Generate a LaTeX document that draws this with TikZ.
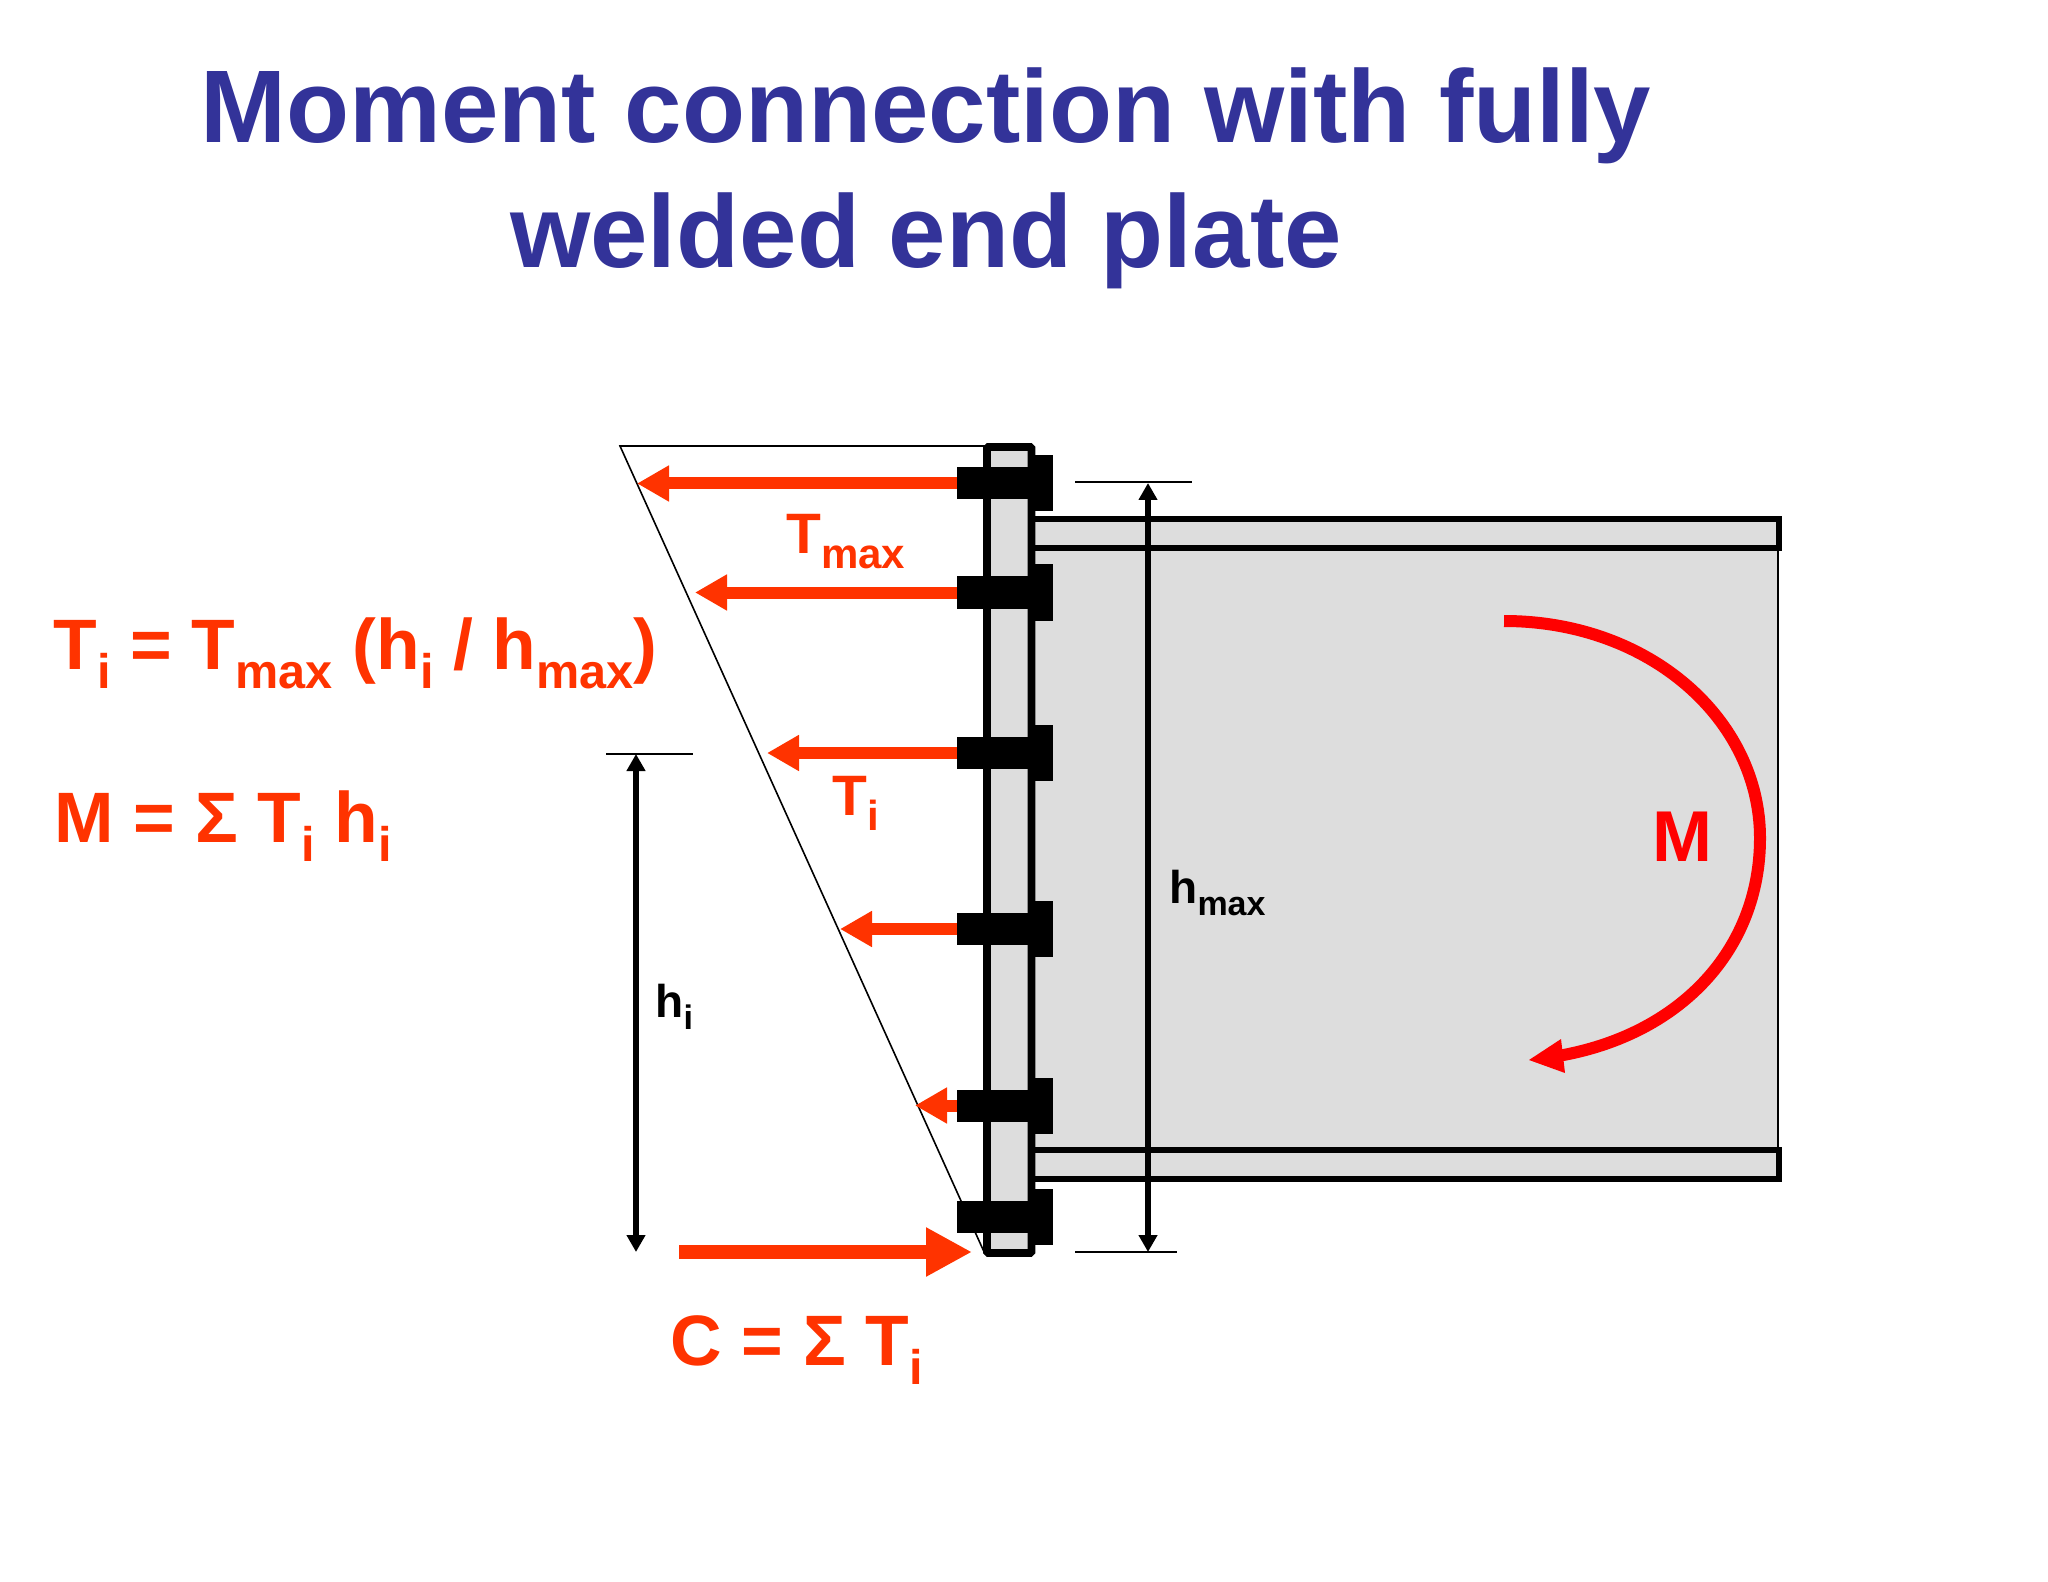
\documentclass[tikz,border=0pt]{standalone}
\usepackage{fontspec}
\setmainfont{Liberation Sans}
\usetikzlibrary{arrows.meta}
\definecolor{titleblue}{HTML}{333399}
\definecolor{forcecol}{HTML}{FF3300}
\definecolor{steelcol}{HTML}{DDDDDD}
\definecolor{momentcol}{HTML}{FF0000}
\newcommand{\lowtxt}[2]{\raisebox{-0.27em}{\fontsize{#1}{#1}\selectfont #2}}
\tikzset{
  x=0.5pt,y=-0.5pt,
  titletext/.style={font=\bfseries\fontsize{51.6pt}{51.6pt}\selectfont,text=titleblue,inner sep=0,anchor=base},
  biglabel/.style={font=\bfseries\fontsize{35.7pt}{35.7pt}\selectfont,text=forcecol,inner sep=0,anchor=base west},
  midlabel/.style={font=\bfseries\fontsize{28.5pt}{28.5pt}\selectfont,text=forcecol,inner sep=0,anchor=base west},
  blacklabel/.style={font=\bfseries\fontsize{23pt}{23pt}\selectfont,text=black,inner sep=0,anchor=base west},
  flangebox/.style={draw=black,line width=2.8pt,fill=steelcol},
  platebox/.style={draw=black,line width=3.8pt,fill=steelcol,rounded corners=0.6pt},
  boltpart/.style={fill=black,draw=none},
  thinline/.style={draw=black,line width=0.8pt},
  tickline/.style={draw=black,line width=1.2pt},
  pullarrow/.style={draw=forcecol,line width=6pt,-{Triangle[length=16pt,width=17pt]}},
  pusharrow/.style={draw=forcecol,line width=7pt,-{Triangle[length=23pt,width=23pt]}},
  dimarrow/.style={draw=black,line width=2.7pt,{Triangle[length=8.5pt,width=9pt]}-{Triangle[length=8.5pt,width=9pt]}},
}
\begin{document}
\begin{tikzpicture}
\useasboundingbox (0,0) rectangle (2048,1582);
% title
\node[titletext] (t1) at (926,143) {Moment connection with fully};
\node[titletext] (t2) at (926,268) {welded end plate};
% web
\fill[steelcol] (1035,548) rectangle (1778,1150);
\draw[black,line width=1pt] (1778,548) -- (1778,1150);
% flanges
\draw[flangebox] (1031,519) rectangle (1779,548);
\draw[flangebox] (1031,1150) rectangle (1779,1179);
% stress triangle
\coordinate (triA) at (620,446);
\coordinate (triB) at (985,446);
\coordinate (triC) at (985,1254);
\draw[thinline] (triB) -- (triA) -- (triC);
% plate
\draw[platebox] (987,447) rectangle (1031.5,1253);
% bolts
\foreach \n/\yb in {a/483.5,b/592.5,c/753,d/929,e/1105.5,f/1216.5}{
  \fill[boltpart] (957,\yb-16) rectangle (1035,\yb+16);
  \fill[boltpart] (1031,\yb-28) rectangle (1053,\yb+28);
  \coordinate (bolt\n) at (957,\yb);
}
% tension arrows
\coordinate (tipa) at (637,483.5);
\coordinate (tipb) at (695,592.5);
\coordinate (tipc) at (767,753);
\coordinate (tipd) at (840,929);
\coordinate (tipe) at (915,1105.5);
\foreach \n in {a,b,c,d,e}{\draw[pullarrow] (bolt\n) -- (tip\n);}
% compression
\coordinate (cS) at (679,1252);
\coordinate (cE) at (972,1252);
\draw[pusharrow] (cS) -- (cE);
% dimensions
\coordinate (hmaxT) at (1148,483);
\coordinate (hmaxB) at (1148,1252);
\coordinate (hiT) at (636,754);
\coordinate (hiB) at (636,1252);
\draw[tickline] (1075,482) -- (1192,482);
\draw[tickline] (1075,1252) -- (1177,1252);
\draw[tickline] (606,754) -- (693,754);
\draw[dimarrow] (hmaxT) -- (hmaxB);
\draw[dimarrow] (hiT) -- (hiB);
% moment arrow
\draw[momentcol,line width=6pt] (1504,621) .. controls (1650,621) and (1760,720) .. (1760,838) .. controls (1760,950) and (1680,1035) .. (1558,1056);
\fill[momentcol] (1529,1060) -- (1561,1039) -- (1565,1073) -- cycle;
% labels
\node[biglabel] (l1) at (53,669) {T\lowtxt{24.3pt}{i} = T\lowtxt{24.3pt}{max} (h\lowtxt{24.3pt}{i} / h\lowtxt{24.3pt}{max})};
\node[biglabel] (l2) at (54,842) {M = Σ T\lowtxt{24.3pt}{i} h\lowtxt{24.3pt}{i}};
\node[biglabel] (l3) at (670,1365) {C = Σ T\lowtxt{24.3pt}{i}};
\node[midlabel] (l4) at (786,553) {T\lowtxt{21pt}{max}};
\node[midlabel] (l5) at (832,815) {T\lowtxt{21pt}{i}};
\node[blacklabel] (l6) at (1169,903) {h\lowtxt{17pt}{max}};
\node[blacklabel] (l7) at (655,1017) {h\lowtxt{17pt}{i}};
\node[font=\bfseries\fontsize{36pt}{36pt}\selectfont,text=momentcol,inner sep=0,anchor=base west] (l8) at (1652,861) {M};
\end{tikzpicture}
\end{document}
